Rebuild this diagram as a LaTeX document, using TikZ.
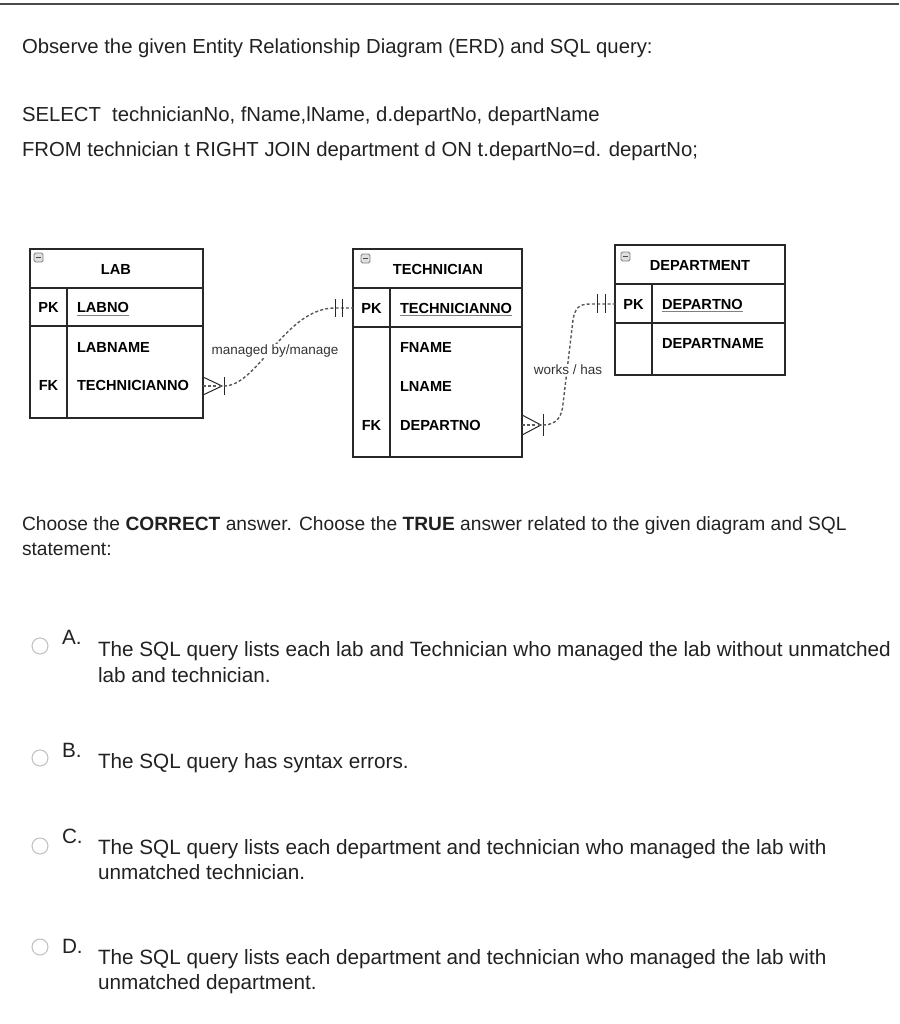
\documentclass[tikz,border=0pt]{standalone}
\usepackage{fontspec}
\setmainfont{Liberation Sans}
\definecolor{txt}{RGB}{33,33,33}
\definecolor{frame}{RGB}{40,40,40}
\definecolor{radio}{RGB}{190,190,190}
\begin{document}
\begin{tikzpicture}[x=1pt,y=-1pt,
  every node/.style={inner sep=0pt,outer sep=0pt},
  body/.style={font=\fontsize{20.3}{24}\selectfont,text=txt,anchor=base west},
  qst/.style={font=\fontsize{19.2}{23}\selectfont,text=txt,anchor=base west},
  opt/.style={font=\fontsize{20.7}{24}\selectfont,text=txt,anchor=base west},
  erd/.style={font=\fontsize{14.6}{17}\bfseries\selectfont,text=black,anchor=base west},
  erdc/.style={font=\fontsize{14.6}{17}\bfseries\selectfont,text=black,anchor=base},
  ent/.style={draw=frame,line width=1.2,anchor=north west},
  rel/.style={draw=black!65,line width=1.4,dash pattern=on 3pt off 2.2pt},
  foot/.style={draw=frame,line width=1.2},
  rlab/.style={font=\fontsize{13.5}{16}\selectfont,text=black!80,fill=white,inner sep=1pt},
  radiob/.style={draw=radio,line width=1,circle,minimum size=16pt},
  icon/.style={draw=gray,fill=gray!25,rounded corners=1.5pt,line width=0.8,minimum width=9pt,minimum height=9pt,anchor=north west},
  uline/.style={draw=gray,line width=0.9}
]
\useasboundingbox (0,0) rectangle (899,1024);
\draw[color=black!70,line width=1.3] (0,4) -- (899,4);

% header text
\node[body] (t1) at (22,54) {Observe the given Entity Relationship Diagram (ERD) and SQL query:};
\node[body] (t2) at (22,122) {SELECT\ \ technicianNo, fName,lName, d.departNo, departName};
\node[body] (t3) at (22,157) {FROM technician t RIGHT JOIN department d ON t.departNo=d. departNo;};

% ===== LAB =====
\node[ent,minimum width=173pt,minimum height=169pt] (lab) at (30,249) {};
\draw[foot] (30,288) -- (203,288);
\draw[foot] (30,326) -- (203,326);
\draw[foot] (67,288) -- (67,418);
\node[icon] (labic) at (34,253) {};
\node[erdc] (labt) at (116,274) {LAB};
\node[erdc] (labpk) at (48.5,312.5) {PK};
\node[erd] (labno) at (77,312.5) {LABNO};
\draw[uline] ([yshift=-2.5pt]labno.base west) -- ([yshift=-2.5pt]labno.base east);
\node[erd] (labname) at (77,352) {LABNAME};
\node[erdc] (labfk) at (48.5,390.5) {FK};
\node[erd] (labtn) at (77,390.5) {TECHNICIANNO};

% ===== TECHNICIAN =====
\node[ent,minimum width=169pt,minimum height=208pt] (tech) at (353,249) {};
\draw[foot] (353,288) -- (522,288);
\draw[foot] (353,327) -- (522,327);
\draw[foot] (390,288) -- (390,457);
\node[icon] (techic) at (361,254) {};
\node[erdc] (techt) at (438,274.5) {TECHNICIAN};
\node[erdc] (techpk) at (371.5,313) {PK};
\node[erd] (techno) at (400,313) {TECHNICIANNO};
\draw[uline] ([yshift=-2.5pt]techno.base west) -- ([yshift=-2.5pt]techno.base east);
\node[erd] (fname) at (400,352.5) {FNAME};
\node[erd] (lname) at (400,391.5) {LNAME};
\node[erdc] (techfk) at (371.5,430.5) {FK};
\node[erd] (techdn) at (400,430.5) {DEPARTNO};

% ===== DEPARTMENT =====
\node[ent,minimum width=170pt,minimum height=130pt] (dept) at (615,245) {};
\draw[foot] (615,284) -- (785,284);
\draw[foot] (615,323) -- (785,323);
\draw[foot] (652,284) -- (652,375);
\node[icon] (deptic) at (621,252) {};
\node[erdc] (deptt) at (700,270.5) {DEPARTMENT};
\node[erdc] (deptpk) at (633.5,309) {PK};
\node[erd] (deptno) at (662,309) {DEPARTNO};
\draw[uline] ([yshift=-2.5pt]deptno.base west) -- ([yshift=-2.5pt]deptno.base east);
\node[erd] (deptname) at (662,348.5) {DEPARTNAME};

% icon dashes
\foreach \c in {labic,techic,deptic}{\draw[gray!60!black,line width=0.9] ([xshift=2.2pt]\c.west) -- ([xshift=-2.2pt]\c.east);}

% ===== relationship LAB - TECHNICIAN =====
\coordinate (r1a) at (203,386);
\coordinate (r1b) at (353,308);
\draw[foot,line width=1] (203,377) -- (222,386) -- (203,395);
\draw[rel] (r1a) -- (222,386);
\draw[foot,line width=1] (224,377) -- (224,395);
\draw[rel] (224,386) .. controls (258,386) and (285,308) .. (335,308) -- (r1b);
\draw[foot,line width=1] (335,299) -- (335,317);
\draw[foot,line width=1] (342,299) -- (342,317);
\node[rlab] (rl1) at (275,351) {managed by/manage};

% ===== relationship TECHNICIAN - DEPARTMENT =====
\coordinate (r2a) at (522,425);
\coordinate (r2b) at (615,304);
\draw[foot,line width=1] (522,415) -- (541,425) -- (522,435);
\draw[rel] (r2a) -- (541,425);
\draw[foot,line width=1] (543,414) -- (543,436);
\draw[rel] (543,425) .. controls (558,425) and (562,415) .. (563,404) -- (573,320) .. controls (575,308) and (579,304) .. (590,304) -- (r2b);
\draw[foot,line width=1] (597,294) -- (597,313);
\draw[foot,line width=1] (605,294) -- (605,313);
\node[rlab] (rl2) at (568,370) {works / has};

% ===== question =====
\node[qst] (q1) at (22,530) {Choose the \textbf{CORRECT} answer. Choose the \textbf{TRUE} answer related to the given diagram and SQL};
\node[qst] (q2) at (22,555) {statement:};

% options
\node[radiob] (ra) at (40,646) {};
\node[opt] (la) at (62,644) {A.};
\node[opt] (a1) at (98,656) {The SQL query lists each lab and Technician who managed the lab without unmatched};
\node[opt] (a2) at (98,682) {lab and technician.};

\node[radiob] (rb) at (40,758) {};
\node[opt] (lb) at (62,757) {B.};
\node[opt] (b1) at (98,768) {The SQL query has syntax errors.};

\node[radiob] (rc) at (40,846) {};
\node[opt] (lc) at (62,843) {C.};
\node[opt] (c1) at (98,854) {The SQL query lists each department and technician who managed the lab with};
\node[opt] (c2) at (98,879) {unmatched technician.};

\node[radiob] (rd) at (40,947) {};
\node[opt] (ld) at (62,953) {D.};
\node[opt] (d1) at (98,964) {The SQL query lists each department and technician who managed the lab with};
\node[opt] (d2) at (98,989) {unmatched department.};
\end{tikzpicture}
\end{document}
